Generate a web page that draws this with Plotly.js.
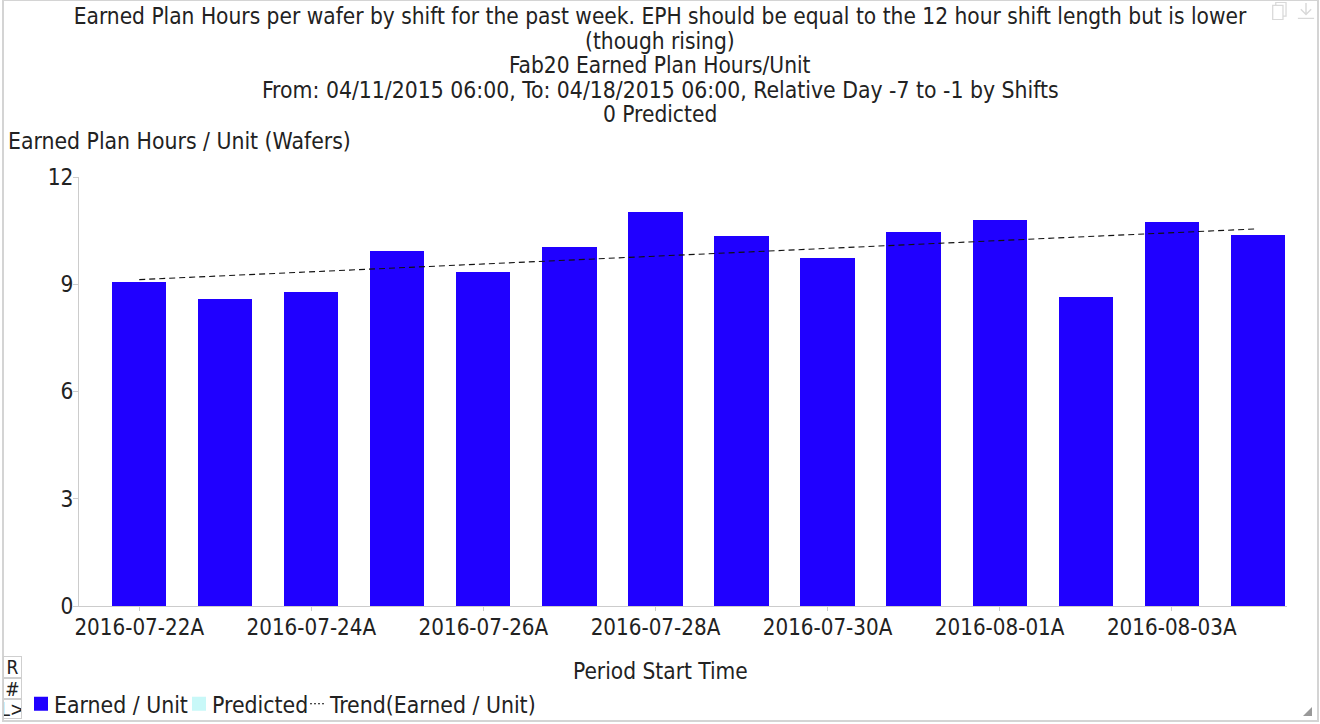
<!DOCTYPE html>
<html><head><meta charset="utf-8">
<script src="https://cdn.plot.ly/plotly-3.0.1.min.js"></script>
<style>html,body{margin:0;padding:0;background:#fff;overflow:hidden}
#frame{position:absolute;left:2px;top:0;width:1313px;height:719px;border:1px solid #d4d4d4;border-width:1px 2px 2px 2px}
#chart{position:absolute;left:0;top:0;width:1320px;height:724px}
.js-plotly-plot .plotly .modebar{top:-2px!important;right:1px!important}
.js-plotly-plot .plotly .modebar-btn{font-size:18px!important}</style>
</head><body><div id="frame"></div><div id="chart"></div>
<script>
const categories = ["2016-07-22A","2016-07-23A","2016-07-24A","2016-07-25A","2016-07-26A","2016-07-27A","2016-07-28A","2016-07-29A","2016-07-30A","2016-07-31A","2016-08-01A","2016-08-02A","2016-08-03A","2016-08-04A"];
const earned = [9.06,8.59,8.78,9.93,9.34,10.04,11.02,10.35,9.73,10.46,10.80,8.64,10.74,10.38];
const predicted = [0,0,0,0,0,0,0,0,0,0,0,0,0,0];
const trendCategories = ["2016-07-22A","2016-08-04A"];
const trendValues = [9.13,10.55];
const titleLine = "Earned Plan Hours per wafer by shift for the past week. EPH should be equal to the 12 hour shift length but is lower";
const subtitleLines = ["(though rising)","Fab20 Earned Plan Hours/Unit","From: 04/11/2015 06:00, To: 04/18/2015 06:00, Relative Day -7 to -1 by Shifts","0 Predicted"];

const FONT = '"DejaVu Sans Condensed", "DejaVu Sans", sans-serif', INK = '#222222', W = 1320, H = 724, SIZE = 22.5;
const L = 79, R = 33, T = 177, B = 118, PW = W-L-R, PH = H-T-B;
const px = v => (v-L)/PW, py = v => (T+PH-v)/PH;
const f = (size=SIZE) => ({family:FONT,size,color:INK});

const traces = [
 {type:'bar',name:'Earned / Unit',x:categories,y:earned,marker:{color:'#2000ff'},legend:'legend'},
 {type:'bar',name:'Predicted',x:categories,y:predicted,marker:{color:'#c8f8f8'},legend:'legend2'},
 {type:'scatter',mode:'lines',name:'Trend(Earned / Unit)',x:trendCategories,y:trendValues,line:{color:'#111',width:1.1,dash:'6px,4px'},legend:'legend3'}
];
const legendBase = {orientation:'h',yanchor:'middle',xanchor:'left',y:py(704),font:f(22.8),bgcolor:'rgba(0,0,0,0)',itemwidth:30,itemclick:false,itemdoubleclick:false};
const box = (text,y0,y1) => ({text,xref:'paper',yref:'paper',x:px(3),xanchor:'left',y:py((y0+y1)/2),yanchor:'middle',showarrow:false,width:17,height:y1-y0-2,borderwidth:1,bordercolor:'#cfcfcf',borderpad:0,font:f(19)});
const note = (text,x,y,xanchor,size) => ({text,xref:'paper',yref:'paper',x:px(x),xanchor,y:py(y),yanchor:'middle',showarrow:false,font:f(size)});
const subtitleY = [41,65,90,114];
const subtitleSize = [22.5,22.5,22.75,22.5];
const layout = {
 width:W,height:H,margin:{l:L,r:R,t:T,b:B,autoexpand:false},
 paper_bgcolor:'rgba(0,0,0,0)',plot_bgcolor:'rgba(0,0,0,0)',barmode:'stack',bargap:0.37,
 font:f(),
 title:{text:titleLine,x:660/W,xref:'container',xanchor:'center',y:1-16/H,yref:'container',yanchor:'middle',font:f()},
 xaxis:{type:'category',range:[-0.7,13.34],tickmode:'linear',tick0:0,dtick:2,ticks:'outside',ticklen:4,tickcolor:'#cccccc',showgrid:false,zeroline:false,showline:true,linecolor:'#cccccc',tickangle:0,tickfont:f(22.2),ticklabelstandoff:-3},
 yaxis:{range:[0,12],tickvals:[0,3,6,9,12],ticks:'outside',ticklen:5,tickcolor:'#cccccc',showgrid:false,zeroline:false,showline:true,linecolor:'#cccccc',tickfont:f(22.5),ticklabelstandoff:-5},
 showlegend:true,
 legend:Object.assign({},legendBase,{x:px(14)}),
 legend2:Object.assign({},legendBase,{x:px(172)}),
 legend3:Object.assign({},legendBase,{x:px(290)}),
 annotations:[
  ...subtitleLines.map((t,i)=>note(t,660,subtitleY[i],'center',subtitleSize[i])),
  note('Earned Plan Hours / Unit (Wafers)',6,141,'left',22.75),
  note('Period Start Time',660,671,'center'),
  box('R',656,678),box('#',678,699),box('L>',699,719)
 ],
 shapes:[{type:'path',xref:'paper',yref:'paper',path:`M ${px(1312)} ${py(707)} L ${px(1312)} ${py(716)} L ${px(1303)} ${py(716)} Z`,fillcolor:'#999999',line:{width:0}}],
 modebar:{bgcolor:'rgba(0,0,0,0)',color:'#d9d9d9',activecolor:'#d9d9d9',orientation:'h'}
};
const copyIcon = {width:1000,height:1000,path:'M300 50H800V750H680V820H870V-20H230V170H300ZM130 220H630V950H130ZM60 150V1020H700V150Z'};
const saveIcon = {width:1000,height:1000,path:'M460 50H540V600L760 380L815 435L500 750L185 435L240 380L460 600ZM50 880H950V950H50Z'};
const config = {displayModeBar:true,displaylogo:false,responsive:false,modeBarButtons:[[
 {name:'Copy',icon:copyIcon,click:function(){}},{name:'Download',icon:saveIcon,click:function(){}}]]};
Plotly.newPlot('chart',traces,layout,config).then(gd=>{
 // the reference's legend glyphs are shorter and sit closer to their labels
 gd.querySelectorAll('.legendsymbols').forEach(g=>{
  g.setAttribute('transform','translate(7,0)');
  g.querySelectorAll('path').forEach(p=>{ if((p.getAttribute('d')||'').indexOf('M6,6')===0) p.setAttribute('d','M7,7H-7V-7H7Z'); });
 });
 gd.querySelectorAll('.legendlines path').forEach(p=>{
  if(p.getAttribute('d')){ p.setAttribute('d','M20,0h15'); p.style.strokeDasharray='2px,2px'; }
 });
});
</script></body></html>
